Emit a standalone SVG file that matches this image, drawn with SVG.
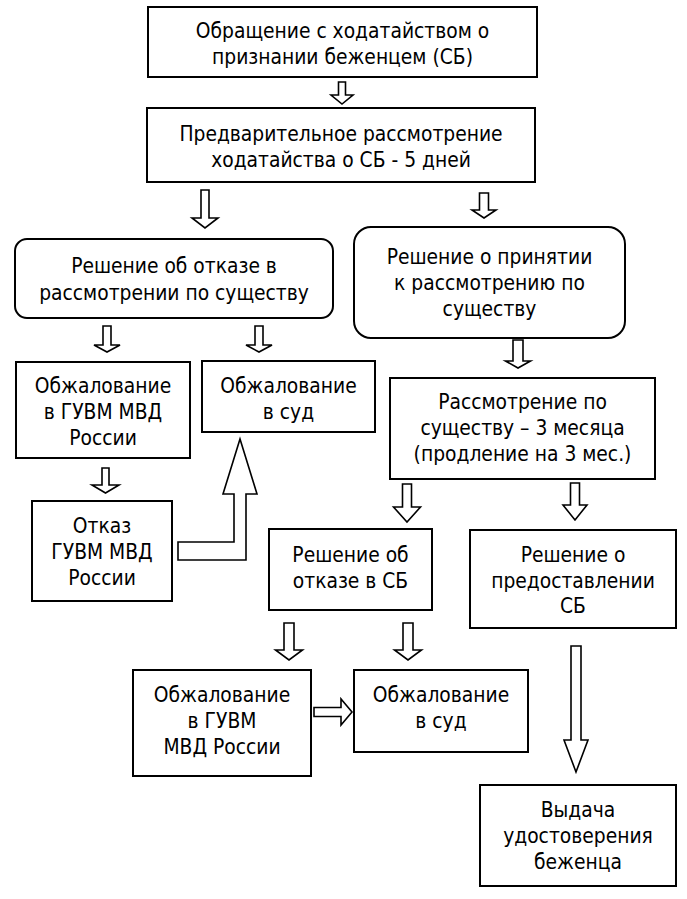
<svg xmlns="http://www.w3.org/2000/svg" width="687" height="899" viewBox="0 0 687 899">
<style>
.box{fill:#fff;stroke:#000;stroke-width:2}
.arr{fill:#fff;stroke:#000;stroke-width:1.6;stroke-linejoin:miter}
text{font-family:"DejaVu Sans Condensed","DejaVu Sans",sans-serif;font-size:20.8px;fill:#000;text-anchor:middle}
</style>
<rect width="687" height="899" fill="#fff"/>
<g id="connectors">
<path class="arr" d="M338.5,82 H345.5 V95 H353 L342,104 L331,95 H338.5 Z"/>
<path class="arr" d="M201,190 H209 V218 H218 L205,228 L192,218 H201 Z"/>
<path class="arr" d="M479.5,193 H488.5 V210 H496 L484,218 L472,210 H479.5 Z"/>
<path class="arr" d="M103,326 H111 V345 H120 L107,352 L94,345 H103 Z"/>
<path class="arr" d="M255,326 H263 V345 H272 L259,352 L246,345 H255 Z"/>
<path class="arr" d="M513,340 H523 V361 H530.5 L518,368 L505.5,361 H513 Z"/>
<path class="arr" d="M102,468 H109 V485 H119 L105.5,493 L92,485 H102 Z"/>
<path class="arr" d="M178,542 H234 V494 H223 L240,439 L257,494 H246 V560 H178 Z"/>
<path class="arr" d="M402.5,484 H411.5 V507 H420.5 L407,522 L393.5,507 H402.5 Z"/>
<path class="arr" d="M570.5,483 H579.5 V505 H587 L575,520 L563,505 H570.5 Z"/>
<path class="arr" d="M284,623 H294 V650 H302.5 L289,660 L275.5,650 H284 Z"/>
<path class="arr" d="M403,623 H413 V650 H421.5 L408,660 L394.5,650 H403 Z"/>
<path class="arr" d="M571,646 H581 V740 H588 L576,772 L564,740 H571 Z"/>
<path class="arr" d="M314,707.5 V716.5 H341 V725 L352,712 L341,699 V707.5 Z"/>
</g>
<g id="n1"><rect class="box" x="148" y="7" width="389" height="70"/>
<text x="342.5" y="38">Обращение с ходатайством о</text><text x="342.5" y="64">признании беженцем (СБ)</text></g>
<g id="n2"><rect class="box" x="147" y="108" width="388" height="74"/>
<text x="341" y="141">Предварительное рассмотрение</text><text x="341" y="167">ходатайства о СБ - 5 дней</text></g>
<g id="n3"><rect class="box" x="15" y="239" width="318" height="79" rx="12"/>
<text x="174" y="273">Решение об отказе в</text><text x="174" y="300">рассмотрении по существу</text></g>
<g id="n4"><rect class="box" x="354" y="227" width="271" height="111" rx="17"/>
<text x="489.5" y="264">Решение о принятии</text><text x="489.5" y="290">к рассмотрению по</text><text x="489.5" y="316">существу</text></g>
<g id="n5"><rect class="box" x="16" y="362" width="174" height="96"/>
<text x="103" y="393">Обжалование</text><text x="103" y="419">в ГУВМ МВД</text><text x="103" y="445">России</text></g>
<g id="n6"><rect class="box" x="202" y="361" width="173" height="71"/>
<text x="288.5" y="393">Обжалование</text><text x="288.5" y="419">в суд</text></g>
<g id="n7"><rect class="box" x="390" y="378" width="265" height="101"/>
<text x="522.5" y="409">Рассмотрение по</text><text x="522.5" y="435">существу – 3 месяца</text><text x="522.5" y="461">(продление на 3 мес.)</text></g>
<g id="n8"><rect class="box" x="32" y="501" width="140" height="100"/>
<text x="102" y="533">Отказ</text><text x="102" y="559">ГУВМ МВД</text><text x="102" y="585">России</text></g>
<g id="n9"><rect class="box" x="269" y="529" width="163" height="81"/>
<text x="350.5" y="562">Решение об</text><text x="350.5" y="588">отказе в СБ</text></g>
<g id="n10"><rect class="box" x="470" y="530" width="206" height="98"/>
<text x="573" y="562">Решение о</text><text x="573" y="588">предоставлении</text><text x="573" y="613">СБ</text></g>
<g id="n11"><rect class="box" x="133" y="670" width="178" height="106"/>
<text x="222" y="702">Обжалование</text><text x="222" y="728">в ГУВМ</text><text x="222" y="754">МВД России</text></g>
<g id="n12"><rect class="box" x="354" y="670" width="174" height="82"/>
<text x="441" y="702">Обжалование</text><text x="441" y="728">в суд</text></g>
<g id="n13"><rect class="box" x="480" y="785" width="196" height="101"/>
<text x="578" y="817">Выдача</text><text x="578" y="843">удостоверения</text><text x="578" y="869">беженца</text></g>
</svg>
